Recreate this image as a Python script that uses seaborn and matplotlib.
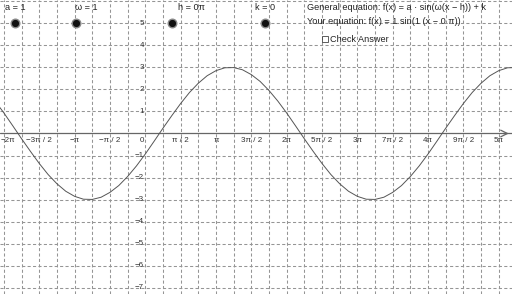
import numpy as np
import pandas as pd
import matplotlib
matplotlib.use("Agg")
import matplotlib.pyplot as plt
import seaborn as sns

# ---- data ----
# curve sampled every pi/8 (x = step * pi/8)
curve_steps = list(range(-18, 43))
curve_y = [1.95, 1.47, 0.93, 0.35, -0.24, -0.81, -1.36, -1.86, -2.28, -2.62, -2.85, -2.98,
           -2.99, -2.89, -2.67, -2.36, -1.95, -1.47,
           -0.93, -0.35, 0.24, 0.81, 1.36, 1.86, 2.28, 2.62, 2.85, 2.98, 2.99, 2.89, 2.67,
           2.36, 1.95, 1.47, 0.93, 0.35, -0.24, -0.81, -1.36, -1.86, -2.28, -2.62, -2.85,
           -2.98, -2.99, -2.89, -2.67, -2.36, -1.95, -1.47,
           -0.93, -0.35, 0.24, 0.81, 1.36, 1.86, 2.28, 2.62, 2.85, 2.98, 2.99]

# x tick labels at multiples of pi/2
xtick_halfpi = [-4, -3, -2, -1, 1, 2, 3, 4, 5, 6, 7, 8, 9, 10]
xtick_labels = ["\u22122\u03c0", "\u22123\u03c0 / 2", "\u2212\u03c0", "\u2212\u03c0 / 2",
                "\u03c0 / 2", "\u03c0", "3\u03c0 / 2", "2\u03c0", "5\u03c0 / 2", "3\u03c0",
                "7\u03c0 / 2", "4\u03c0", "9\u03c0 / 2", "5\u03c0"]
ytick_values = [5, 4, 3, 2, 1, -1, -2, -3, -4, -5, -6, -7]

slider_labels = ["a = 1", "\u03c9 = 1", "h = 0\u03c0", "k = 0"]
general_eq = "General equation: f(x) = a \u00b7 sin(\u03c9(x \u2212 h)) + k"
your_eq = "Your equation: f(x) = 1 sin(1 (x \u2212 0 \u03c0))"
check_label = "Check Answer"

df = pd.DataFrame({"x": np.array(curve_steps) * np.pi / 8, "y": curve_y})

# ---- figure ----
sns.set_theme(style="white")
plt.rcParams["font.family"] = ["Liberation Sans", "DejaVu Sans"]
W, H = 512, 294
fig = plt.figure(figsize=(W / 100, H / 100), dpi=100)
ax = fig.add_axes([0, 0, 1, 1])

ux = 22.5   # px per unit x
uy = 22.05  # px per unit y
x0px, y0px = 145.3, 133.5
xmin, xmax = -x0px / ux, (W - x0px) / ux
ymax, ymin = y0px / uy, -(H - y0px) / uy
ax.set_xlim(xmin, xmax)
ax.set_ylim(ymin, ymax)
ax.set_axis_off()

grid_kw = dict(color="#959595", lw=0.75, dashes=(3, 2.2), zorder=1)
k0 = int(np.ceil(xmin / (np.pi / 4)))
k1 = int(np.floor(xmax / (np.pi / 4)))
for k in range(k0, k1 + 1):
    ax.axvline(k * np.pi / 4, **grid_kw)
for v in range(int(np.ceil(ymin)), int(np.floor(ymax)) + 1):
    if v != 0:
        ax.axhline(v, **grid_kw)

# x axis with arrow
ax.axhline(0, color="#666666", lw=0.9, zorder=2)
ax.annotate("", xy=(xmax - 0.02, 0), xytext=(xmax - 0.5, 0),
            arrowprops=dict(arrowstyle="->", color="#666666", lw=0.9), zorder=3)

# curve
sns.lineplot(data=df, x="x", y="y", ax=ax, color="#555555", lw=0.7, zorder=4)

# tick labels
lab_kw = dict(fontsize=5.8, color="#333333", zorder=5)
for t, lab in zip(xtick_halfpi, xtick_labels):
    xpos = t * np.pi / 2
    if xpos - 0.35 < xmin:
        ax.text(xmin + 0.04, -0.32, lab, ha="left", va="center", **lab_kw)
    else:
        ax.text(xpos, -0.32, lab, ha="center", va="center", **lab_kw)
ax.text(-0.15, -0.32, "0", ha="center", va="center", **lab_kw)
for v in ytick_values:
    ax.text(-0.06, v, "\u2212%d" % -v if v < 0 else str(v), ha="right", va="center", **lab_kw)

# UI elements (sliders, equation texts, checkbox)
def fx(px):
    return px / W

def fy(py):
    return 1 - py / H

txt_kw = dict(fontsize=6.6, color="#222222", va="center")
slider_text_x = [5, 75, 178, 255]
slider_dot_x = [15, 76, 172, 265]
for lab, tx, dx in zip(slider_labels, slider_text_x, slider_dot_x):
    fig.text(fx(tx), fy(8), lab, ha="left", **txt_kw)
    fig.lines.append(plt.Line2D([fx(dx)], [fy(23)], marker="o", ms=6.2, color="#111111",
                                markeredgecolor="#8a8a8a", markeredgewidth=1.0,
                                transform=fig.transFigure, zorder=7))

fig.text(fx(307), fy(8), general_eq, ha="left", **txt_kw)
fig.text(fx(307), fy(22), your_eq, ha="left", **txt_kw)
fig.patches.append(plt.Rectangle((fx(322), fy(42)), 6 / W, 6 / H, transform=fig.transFigure,
                                 fill=False, ec="#444444", lw=0.6, zorder=6))
fig.text(fx(330), fy(39), check_label, ha="left", **txt_kw)

fig.savefig("out.png", dpi=100)
